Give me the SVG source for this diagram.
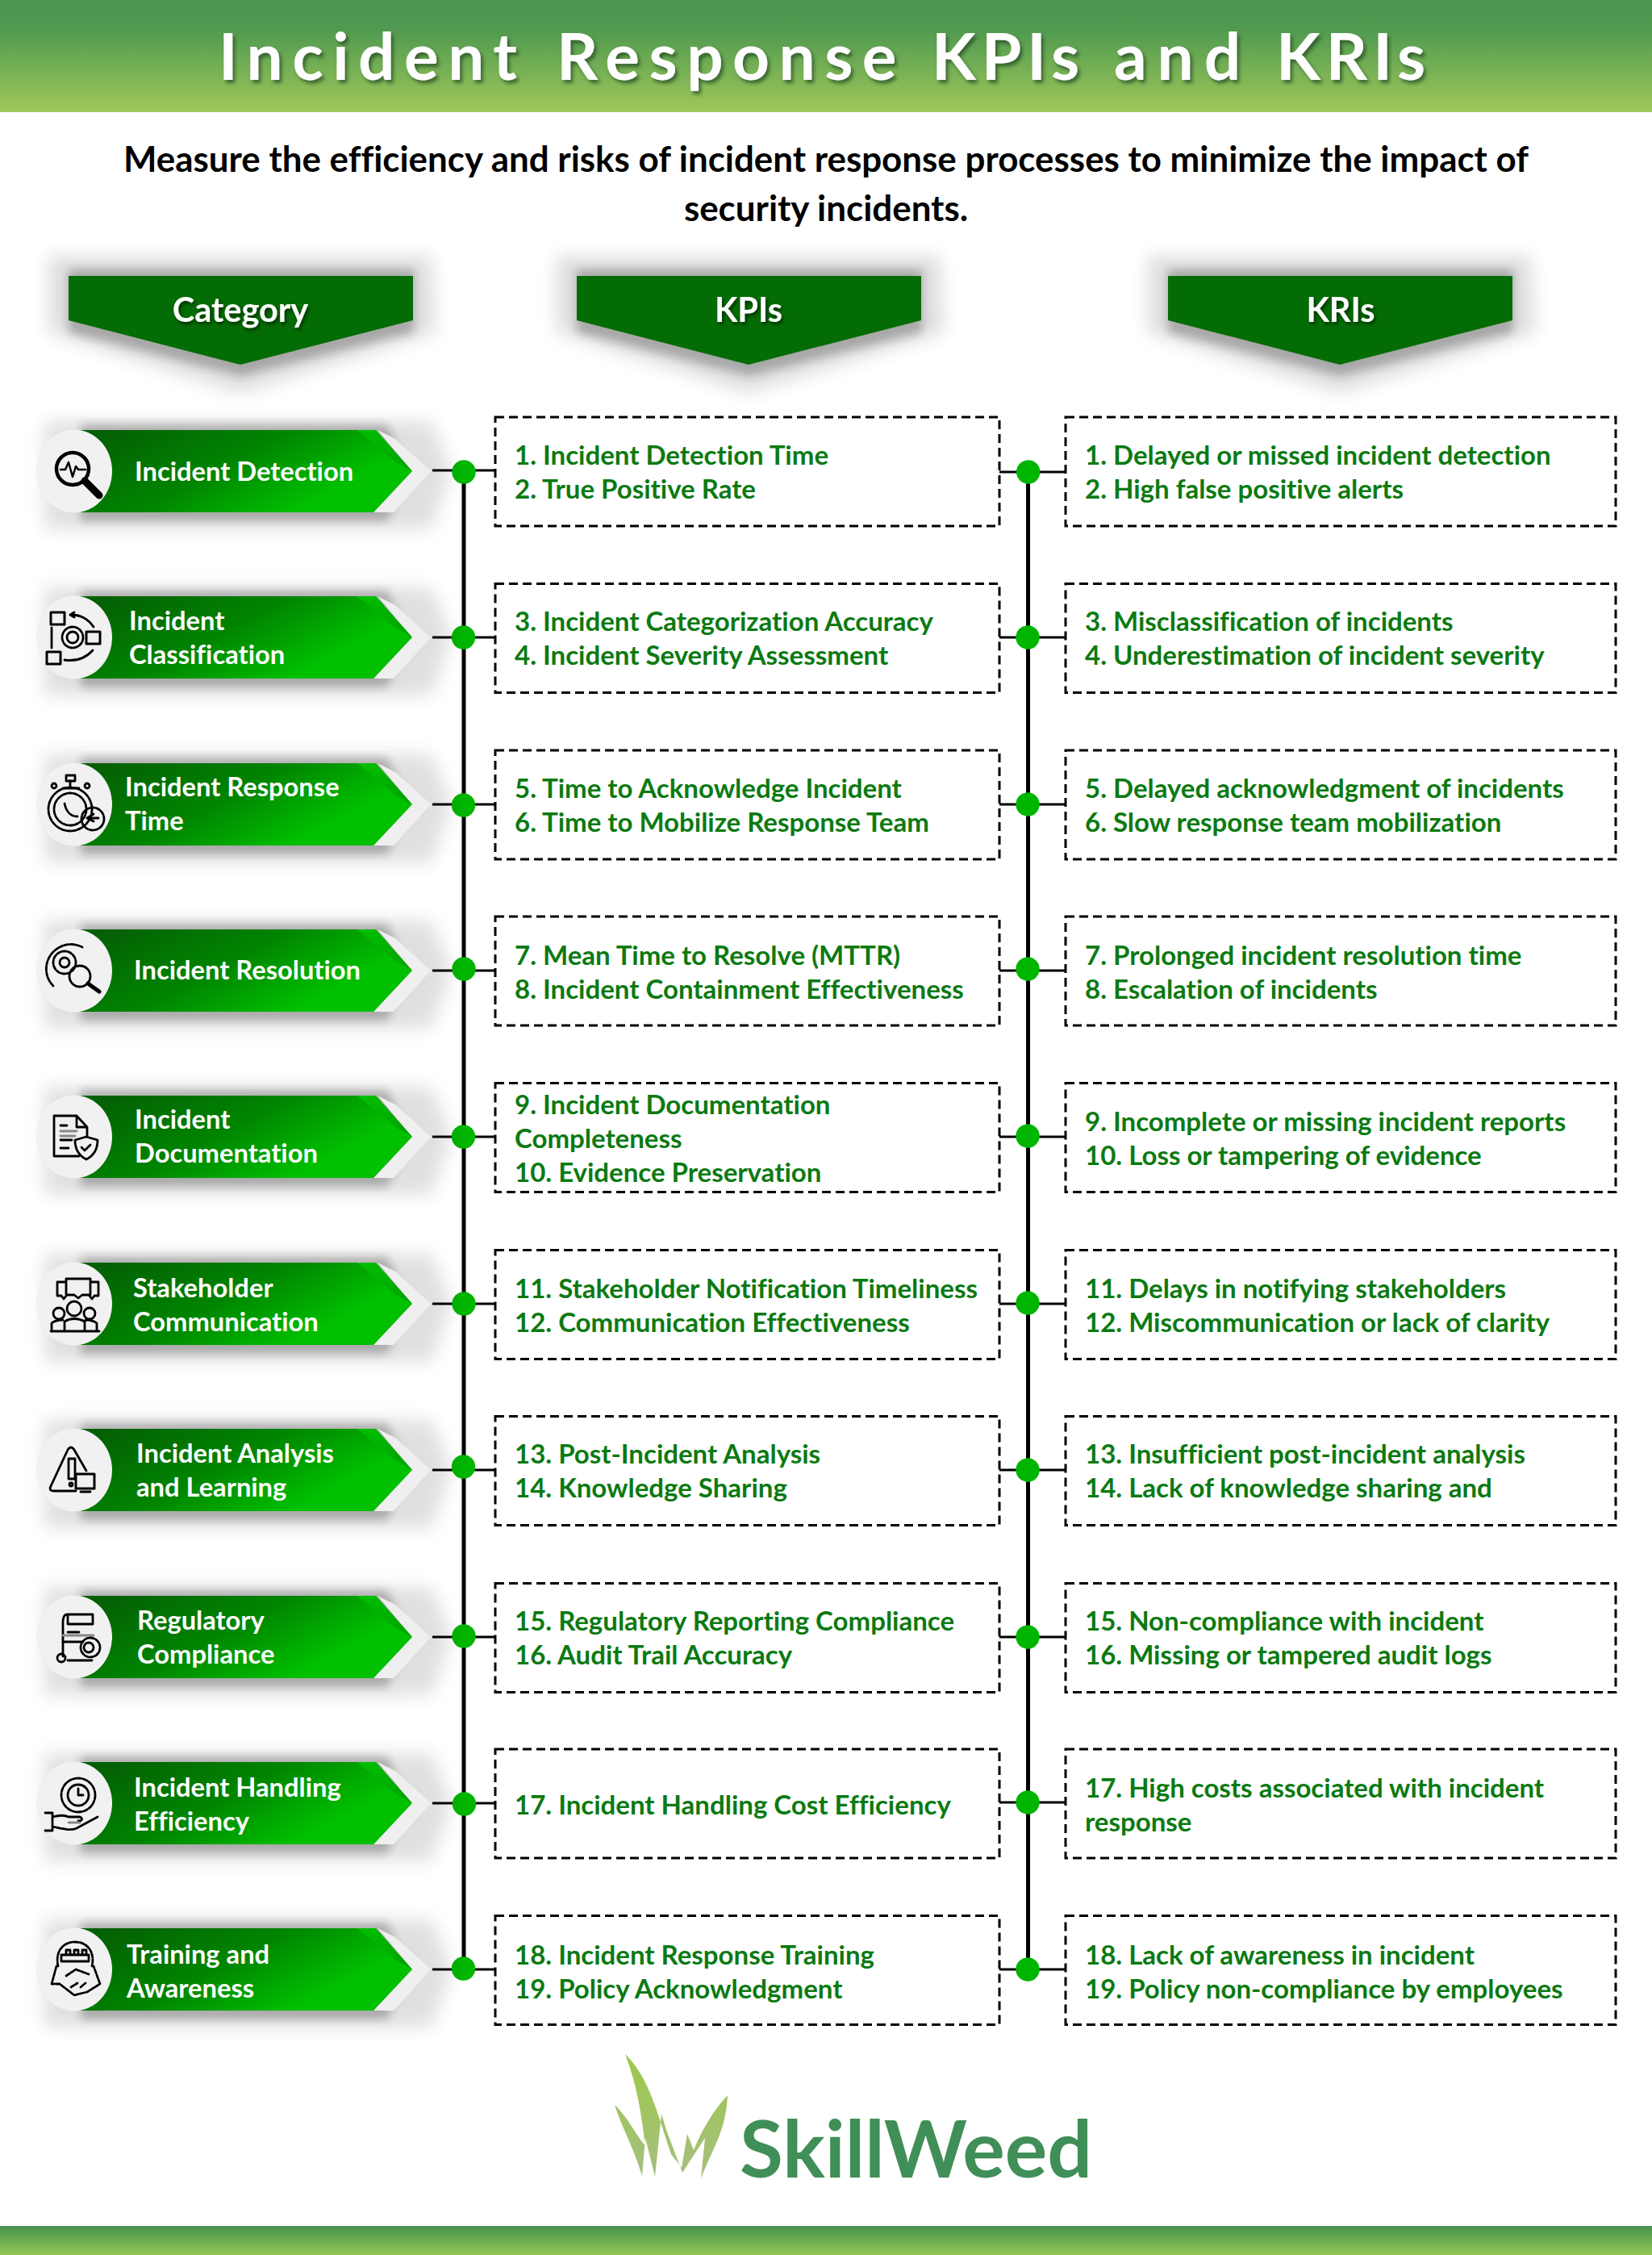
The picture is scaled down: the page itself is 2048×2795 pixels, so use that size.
<svg xmlns="http://www.w3.org/2000/svg" xmlns:xlink="http://www.w3.org/1999/xlink" width="2048" height="2795" viewBox="0 0 2048 2795">
<style>
text{font-family:"Lato","Liberation Sans",sans-serif;font-weight:700;font-variant-ligatures:none}
.t{font-size:33px;fill:#0c7a12}
.c{font-size:32.7px;fill:#fff}
.h{font-size:41.5px;fill:#fff;text-anchor:middle}
.s{font-size:43.9px;fill:#000;text-anchor:middle}
.box{fill:none;stroke:#000;stroke-width:3;stroke-dasharray:11 6}
.ln{fill:none;stroke:#000;stroke-width:3}
.tr{fill:none;stroke:#000;stroke-width:5}
.dot{fill:#00b500}
.disc{fill:#f1f1f1}
.i{fill:none;stroke:#000;stroke-width:2.8;stroke-linejoin:round;stroke-linecap:round}
.d{stroke-dasharray:5 2}
.g{stroke:#888}
</style>
<defs>
<linearGradient id="bar" x1="0" y1="0" x2="0" y2="1"><stop offset="0" stop-color="#4a9650"/><stop offset=".25" stop-color="#4f9950"/><stop offset="1" stop-color="#9fc85a"/></linearGradient>
<linearGradient id="foot" x1="0" y1="0" x2="0" y2="1"><stop offset="0" stop-color="#46934e"/><stop offset="1" stop-color="#93c556"/></linearGradient>
<linearGradient id="chevFill" gradientUnits="userSpaceOnUse" x1="130" y1="-51" x2="225" y2="125"><stop offset="0" stop-color="#045f04"/><stop offset=".55" stop-color="#008500"/><stop offset="1" stop-color="#00c000"/></linearGradient>
<linearGradient id="wedge" x1="0" y1="0" x2="1" y2="1"><stop offset="0" stop-color="#00c000"/><stop offset="1" stop-color="#00a000"/></linearGradient>
<linearGradient id="leaf" x1="0" y1="0" x2="0" y2="1"><stop offset="0" stop-color="#9cc84a"/><stop offset="1" stop-color="#a6bf80"/></linearGradient>
<filter id="blur" x="-20%" y="-60%" width="140%" height="220%"><feGaussianBlur stdDeviation="11"/></filter>
<filter id="blurS" x="-20%" y="-60%" width="140%" height="220%"><feGaussianBlur stdDeviation="6"/></filter>
<filter id="ts" x="-5%" y="-20%" width="110%" height="150%"><feDropShadow dx="3" dy="4" stdDeviation="2" flood-color="#1f3d1f" flood-opacity=".65"/></filter>
<filter id="hs" x="-10%" y="-20%" width="120%" height="150%"><feDropShadow dx="2" dy="3" stdDeviation="2" flood-color="#000" flood-opacity=".55"/></filter>
<g id="chev">
<polygon points="55,-62 535,-62 560,0 535,72 55,72" fill="#000" opacity=".12" filter="url(#blur)"/>
<polygon points="100,-58 480,-58 505,0 480,62 100,62" fill="#000" opacity=".24" filter="url(#blurS)"/>
<polygon points="468,-51 490,-40 534,0 488,51 463,51 511,0" fill="#efefef"/>
<polygon points="100,-51 465,-51 511,0 463,51 100,51" fill="url(#chevFill)"/>
<polygon points="443,-51 466,-51 511,0 490,-12" fill="url(#wedge)"/>
<ellipse cx="92" cy="0" rx="47" ry="51.5" class="disc"/>
</g>
<g id="ban">
<polygon points="-25,-25 450,-25 455,70 213,145 -25,70" fill="#000" opacity=".13" filter="url(#blur)"/>
<polygon points="0,-8 428,-8 428,70 214,124 0,70" fill="#000" opacity=".24" filter="url(#blurS)"/>
<polygon points="0,0 427,0 427,55 213,110 0,55" fill="#046c04"/>
</g>
</defs>
<rect width="2048" height="2795" fill="#fff"/>
<g id="header"><rect width="2048" height="139" fill="url(#bar)"/>
<text y="99" font-size="80" fill="#fff" letter-spacing="11.500" filter="url(#ts)"><tspan x="271">Incident</tspan><tspan x="690">Response</tspan><tspan x="1155" letter-spacing="7">KPIs</tspan><tspan x="1381" letter-spacing="13">and</tspan><tspan x="1582" letter-spacing="7">KRIs</tspan></text></g>
<g id="subtitle"><text class="s" x="1024" y="213">Measure the efficiency and risks of incident response processes to minimize the impact of</text>
<text class="s" x="1024" y="274">security incidents.</text></g>

<g id="head-category"><use href="#ban" x="85" y="342"/><text class="h" x="298" y="399" filter="url(#hs)">Category</text></g>
<g id="head-kpis"><use href="#ban" x="715" y="342"/><text class="h" x="928" y="399" filter="url(#hs)">KPIs</text></g>
<g id="head-kris"><use href="#ban" x="1448" y="342"/><text class="h" x="1662" y="399" filter="url(#hs)">KRIs</text></g>

<g id="connectors">
<path class="tr" d="M575 584V2440M1274.500 585V2441"/>
<path class="ln" d="M536 583H614M536 790H614M536 997H614M536 1203H614M536 1409H614M536 1616H614M536 1822H614M536 2029H614M536 2235H614M536 2441H614"/>
<path class="ln" d="M1239 585H1321M1239 790H1321M1239 997H1321M1239 1203H1321M1239 1409H1321M1239 1616H1321M1239 1822H1321M1239 2029H1321M1239 2234H1321M1239 2441H1321"/>
<g class="dot">
<circle cx="575" cy="585" r="14.700"/><circle cx="574.500" cy="790" r="14.700"/><circle cx="574.500" cy="998" r="14.700"/><circle cx="575" cy="1201" r="14.700"/><circle cx="574.500" cy="1409" r="14.700"/><circle cx="575" cy="1616" r="14.700"/><circle cx="574.500" cy="1818" r="14.700"/><circle cx="575" cy="2028" r="14.700"/><circle cx="575.500" cy="2236" r="14.700"/><circle cx="574.500" cy="2440" r="14.700"/>
<circle cx="1274.700" cy="585" r="14.700"/><circle cx="1274" cy="790" r="14.700"/><circle cx="1274" cy="997" r="14.700"/><circle cx="1274" cy="1201" r="14.700"/><circle cx="1274" cy="1408" r="14.700"/><circle cx="1274" cy="1615" r="14.700"/><circle cx="1274" cy="1822" r="14.700"/><circle cx="1274" cy="2029" r="14.700"/><circle cx="1274" cy="2234" r="14.700"/><circle cx="1274" cy="2441" r="14.700"/>
</g>
</g>

<g id="cat1"><use href="#chev" y="584"/>
<g class="i"><circle cx="90" cy="581" r="20" stroke-width="4.500"/><path d="M75 582h6l4-9 5 18 4-13 3 4h9" stroke-width="2.500"/><path d="M105 596l18 18" stroke-width="9"/></g>
<text class="c" x="167" y="596">Incident Detection</text></g>

<g id="cat2"><use href="#chev" y="790"/>
<g class="i"><rect x="63" y="759" width="17" height="15" stroke-width="3"/><rect x="107" y="783" width="17" height="15" stroke-width="3"/><rect x="58" y="808" width="17" height="15" stroke-width="3"/><circle cx="90" cy="790" r="13" class="i d"/><circle cx="90" cy="790" r="7"/><path d="M88 762c12 0 22 6 28 15M64 778v25M80 818c14 2 26-2 35-12M87 762l5-3M87 762l5 3"/></g>
<text class="c" x="160" y="781">Incident</text><text class="c" x="160" y="823">Classification</text></g>

<g id="cat3"><use href="#chev" y="997"/>
<g class="i"><rect x="82" y="961" width="11" height="7"/><path d="M87 968v9M78 977h20"/><circle cx="67" cy="974" r="3"/><circle cx="108" cy="974" r="3"/><circle cx="87" cy="1003" r="27" class="i d"/><circle cx="87" cy="1003" r="20" class="i d"/><path d="M80 996c2 10 8 16 16 16"/><circle cx="115" cy="1015" r="14" class="i d"/><path d="M108 1014l8-5M108 1014l8 4M108 1014h14"/></g>
<text class="c" x="155" y="987">Incident Response</text><text class="c" x="155" y="1029">Time</text></g>

<g id="cat4"><use href="#chev" y="1203"/>
<g class="i"><path class="i d" d="M66 1222a30 30 0 0 1 2-44a30 30 0 0 1 34 -4"/><circle cx="80" cy="1193" r="14" class="i d"/><circle cx="80" cy="1193" r="6"/><circle cx="99" cy="1210" r="13"/><path d="M109 1219l14 10" stroke-width="5"/></g>
<text class="c" x="166" y="1214">Incident Resolution</text></g>

<g id="cat5"><use href="#chev" y="1409"/>
<g class="i"><path d="M98 1433H67V1383H95L108 1397V1408M95 1383V1397H108" stroke-width="2.800"/><path d="M75 1395h8M75 1413h14M75 1423h10"/><path class="g" d="M75 1402h20M75 1408h18"/><path d="M107 1409l14 4c0 12-6 20-14 24c-8-4-14-12-14-24zM101 1422l4 4l7-7" fill="#f1f1f1"/></g>
<text class="c" x="167" y="1399">Incident</text><text class="c" x="167" y="1441">Documentation</text></g>

<g id="cat6"><use href="#chev" y="1616"/>
<g class="i"><path d="M82 1585h30v20h-10l-5 4l-5-4h-10zM82 1589h-11v17h5l3 4l4-5M112 1589h10v17h-5l-3 4l-4-5"/><circle cx="92" cy="1622" r="9"/><circle cx="73" cy="1628" r="7"/><circle cx="111" cy="1628" r="7"/><path d="M80 1650v-12q12-7 25 0v12M64 1650v-10q5-4 14-4M120 1650v-10q-5-4-14-4M63 1650h60"/></g>
<text class="c" x="165" y="1608">Stakeholder</text><text class="c" x="165" y="1650">Communication</text></g>

<g id="cat7"><use href="#chev" y="1822"/>
<g class="i"><path d="M107 1823L92 1797Q88 1791 84 1797L63 1842Q60 1848 67 1848H94"/><rect x="85" y="1808" width="8" height="25"/><circle cx="88" cy="1840" r="2"/><rect x="94" y="1827" width="23" height="18" stroke-width="3"/><path d="M100 1849h12"/></g>
<text class="c" x="169" y="1813">Incident Analysis</text><text class="c" x="169" y="1855">and Learning</text></g>

<g id="cat8"><use href="#chev" y="2029"/>
<g class="i"><path d="M84 2001h31v12H84zM84 2001c-5 0-5 3-6 8v44M84 2013H115M84 2023h14" /><path class="g" d="M78 2027h38"/><path d="M78 2035h25M84 2058h30"/><circle cx="112" cy="2042" r="12" class="i d"/><circle cx="110" cy="2042" r="6"/><circle cx="76" cy="2055" r="5"/></g>
<text class="c" x="170" y="2020">Regulatory</text><text class="c" x="170" y="2062">Compliance</text></g>

<g id="cat9"><use href="#chev" y="2235"/>
<g class="i" transform="translate(0 2)"><circle cx="97" cy="2223" r="21" class="i d"/><circle cx="97" cy="2223" r="13"/><path d="M97 2215v8h6"/><path d="M56 2245h9v22h-9M65 2247v20M65 2250c8-2 14-3 20 0h14c4 2 3 5-2 5M65 2262c10 2 22 6 30 2l26-14"/><path class="g" d="M85 2257h14"/></g>
<text class="c" x="166" y="2227">Incident Handling</text><text class="c" x="166" y="2269">Efficiency</text></g>

<g id="cat10"><use href="#chev" y="2441"/>
<g class="i" transform="translate(0 5)"><path class="i d" d="M72 2432c-4-18 6-30 21-30s25 12 21 30"/><path d="M76 2418h34v8H76zM82 2412h5v6h-5zM92 2412h5v6h-5zM102 2412h5v6h-5z"/><path class="i d" d="M70 2432l-6 22h10l18 14l16-4l16-10l-8-22M82 2444l12-8l16 6M88 2458l8-5M100 2458l6-5"/></g>
<text class="c" x="157" y="2434">Training and</text><text class="c" x="157" y="2476">Awareness</text></g>

<g id="kpi1"><rect class="box" x="614" y="517" width="625" height="135"/><text class="t" x="638" y="576">1. Incident Detection Time</text><text class="t" x="638" y="618">2. True Positive Rate</text></g>
<g id="kpi2"><rect class="box" x="614" y="723.500" width="625" height="135"/><text class="t" x="638" y="782">3. Incident Categorization Accuracy</text><text class="t" x="638" y="824">4. Incident Severity Assessment</text></g>
<g id="kpi3"><rect class="box" x="614" y="930" width="625" height="135"/><text class="t" x="638" y="989">5. Time to Acknowledge Incident</text><text class="t" x="638" y="1031">6. Time to Mobilize Response Team</text></g>
<g id="kpi4"><rect class="box" x="614" y="1136" width="625" height="135"/><text class="t" x="638" y="1196">7. Mean Time to Resolve (MTTR)</text><text class="t" x="638" y="1238">8. Incident Containment Effectiveness</text></g>
<g id="kpi5"><rect class="box" x="614" y="1342.500" width="625" height="135"/><text class="t" x="638" y="1381">9. Incident Documentation</text><text class="t" x="638" y="1423">Completeness</text><text class="t" x="638" y="1465">10. Evidence Preservation</text></g>
<g id="kpi6"><rect class="box" x="614" y="1549.500" width="625" height="135"/><text class="t" x="638" y="1609">11. Stakeholder Notification Timeliness</text><text class="t" x="638" y="1651">12. Communication Effectiveness</text></g>
<g id="kpi7"><rect class="box" x="614" y="1755.500" width="625" height="135"/><text class="t" x="638" y="1814">13. Post-Incident Analysis</text><text class="t" x="638" y="1856">14. Knowledge Sharing</text></g>
<g id="kpi8"><rect class="box" x="614" y="1962.500" width="625" height="135"/><text class="t" x="638" y="2021">15. Regulatory Reporting Compliance</text><text class="t" x="638" y="2063">16. Audit Trail Accuracy</text></g>
<g id="kpi9"><rect class="box" x="614" y="2168" width="625" height="135"/><text class="t" x="638" y="2249">17. Incident Handling Cost Efficiency</text></g>
<g id="kpi10"><rect class="box" x="614" y="2374.500" width="625" height="135"/><text class="t" x="638" y="2435">18. Incident Response Training</text><text class="t" x="638" y="2477">19. Policy Acknowledgment</text></g>

<g id="kri1"><rect class="box" x="1321" y="517" width="682" height="135"/><text class="t" x="1345" y="576">1. Delayed or missed incident detection</text><text class="t" x="1345" y="618">2. High false positive alerts</text></g>
<g id="kri2"><rect class="box" x="1321" y="723.500" width="682" height="135"/><text class="t" x="1345" y="782">3. Misclassification of incidents</text><text class="t" x="1345" y="824">4. Underestimation of incident severity</text></g>
<g id="kri3"><rect class="box" x="1321" y="930" width="682" height="135"/><text class="t" x="1345" y="989">5. Delayed acknowledgment of incidents</text><text class="t" x="1345" y="1031">6. Slow response team mobilization</text></g>
<g id="kri4"><rect class="box" x="1321" y="1136" width="682" height="135"/><text class="t" x="1345" y="1196">7. Prolonged incident resolution time</text><text class="t" x="1345" y="1238">8. Escalation of incidents</text></g>
<g id="kri5"><rect class="box" x="1321" y="1342.500" width="682" height="135"/><text class="t" x="1345" y="1402">9. Incomplete or missing incident reports</text><text class="t" x="1345" y="1444">10. Loss or tampering of evidence</text></g>
<g id="kri6"><rect class="box" x="1321" y="1549.500" width="682" height="135"/><text class="t" x="1345" y="1609">11. Delays in notifying stakeholders</text><text class="t" x="1345" y="1651">12. Miscommunication or lack of clarity</text></g>
<g id="kri7"><rect class="box" x="1321" y="1755.500" width="682" height="135"/><text class="t" x="1345" y="1814">13. Insufficient post-incident analysis</text><text class="t" x="1345" y="1856">14. Lack of knowledge sharing and</text></g>
<g id="kri8"><rect class="box" x="1321" y="1962.500" width="682" height="135"/><text class="t" x="1345" y="2021">15. Non-compliance with incident</text><text class="t" x="1345" y="2063">16. Missing or tampered audit logs</text></g>
<g id="kri9"><rect class="box" x="1321" y="2168" width="682" height="135"/><text class="t" x="1345" y="2228">17. High costs associated with incident</text><text class="t" x="1345" y="2270">response</text></g>
<g id="kri10"><rect class="box" x="1321" y="2374.500" width="682" height="135"/><text class="t" x="1345" y="2435">18. Lack of awareness in incident</text><text class="t" x="1345" y="2477">19. Policy non-compliance by employees</text></g>

<g id="logo">
<path fill="url(#leaf)" d="M775 2546C805 2575 815 2620 832 2670L845 2687L852 2645L860 2665C870 2640 885 2615 902 2597C900 2640 885 2660 869 2700L874 2650L853 2682L846 2693L826 2640L820 2620L812 2698L800 2650L796 2697C785 2660 772 2640 762 2609C775 2620 788 2645 800 2660C795 2620 790 2585 775 2546Z"/>
<text x="917" y="2699" font-size="98" fill="#408f58" textLength="437" lengthAdjust="spacingAndGlyphs">SkillWeed</text>
</g>
<rect id="footer" y="2759" width="2048" height="36" fill="url(#foot)"/>
</svg>
